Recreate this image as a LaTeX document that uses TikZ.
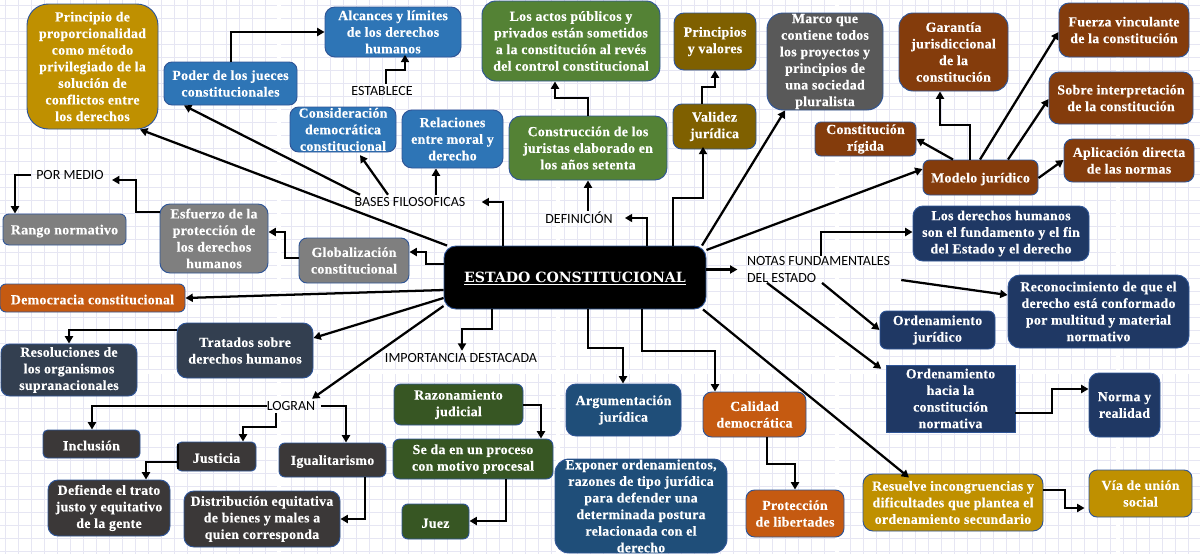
\documentclass[tikz,border=0pt]{standalone}
\usepackage{fontspec}
\usetikzlibrary{arrows.meta}
\newfontfamily\boxfont[Ligatures=TeX,LetterSpace=2,BoldFeatures={FakeBold=0.35}]{Liberation Serif}
\newfontfamily\lblfont{Carlito}
\newfontfamily\titlefont{DejaVu Serif}
\definecolor{cgold}{HTML}{BF9000}
\definecolor{cblue}{HTML}{2E75B6}
\definecolor{cgrey}{HTML}{7F7F7F}
\definecolor{corange}{HTML}{C55A11}
\definecolor{cslate}{HTML}{333F50}
\definecolor{cdark}{HTML}{3B3838}
\definecolor{cgreen}{HTML}{375623}
\definecolor{cgreenb}{HTML}{548235}
\definecolor{cteal}{HTML}{1F4E79}
\definecolor{cnavy}{HTML}{1F3864}
\definecolor{cbrown}{HTML}{843C0C}
\definecolor{colive}{HTML}{7F6000}
\definecolor{cmarco}{HTML}{595959}
\definecolor{cline}{HTML}{2F5597}
\definecolor{cgrid}{HTML}{E6E6F3}
\tikzset{
  gridline/.style={draw=cgrid,line width=0.6pt},
  gapline/.style={draw=white,line width=2.6pt},
  boxspan/.style n args={4}{minimum width=(#3-#1)*0.75pt,minimum height=(#4-#2)*0.75pt,at={({(#1+#3)/2},{(#2+#4)/2})}},
  bx/.style={draw=cline,line width=0.7pt,text=white,inner sep=0pt,align=center,
    execute at begin node={\rule{0pt}{9.6pt}},
    font=\boxfont\bfseries\fontsize{10.4}{12.45}\selectfont},
  lbl/.style={inner sep=0pt,minimum height=10.5pt,align=left,text=black,
    font=\lblfont\fontsize{10.5}{12.8}\selectfont},
  arr/.style={draw=black,line width=1.7pt,-{Triangle[length=5.5pt,width=6pt]}},
  thin arr/.style={arr,line width=1.3pt},
}
\begin{document}
\begin{tikzpicture}[x=0.75pt,y=-0.75pt]
\useasboundingbox (0,0) rectangle (1200,554);
\clip (0,0) rectangle (1200,554);
\fill[white] (0,0) rectangle (1200,554);
\foreach \gx in {5,18,...,1200} \draw[gridline] (\gx,0) -- (\gx,554);
\foreach \gy in {5,18,...,554} \draw[gridline] (0,\gy) -- (1200,\gy);
\foreach \gx in {279,558,837,1118} \draw[gapline] (\gx,0) -- (\gx,554);
\draw[gapline] (0,372) -- (1200,372);

% main
\node[bx,fill=black,boxspan={444}{246}{706}{309},rounded corners=9pt,font=\titlefont\bfseries\fontsize{10.6}{12}\selectfont] (main) {\underline{ESTADO CONSTITUCIONAL}};

% upper left
\node[bx,fill=cgold,boxspan={27}{4}{158}{129},rounded corners=16pt] (princ) {Principio de\\proporcionalidad\\como método\\privilegiado de la\\solución de\\conflictos entre\\los derechos};
\node[bx,fill=cblue,boxspan={164}{62}{297}{105},rounded corners=6pt] (poder) {Poder de los jueces\\constitucionales};
\node[bx,fill=cblue,boxspan={325}{7}{461}{57},rounded corners=7.5pt] (alc) {Alcances y límites\\de los derechos\\humanos};
\node[bx,fill=cblue,boxspan={290}{107}{396}{152},rounded corners=6.5pt] (cons) {Consideración\\democrática\\constitucional};
\node[bx,fill=cblue,boxspan={402}{110}{503}{168},rounded corners=7.5pt] (rel) {Relaciones\\entre moral y\\derecho};
\node[bx,fill=cgrey,boxspan={3}{214}{126}{245},rounded corners=4.5pt] (rango) {Rango normativo};
\node[bx,fill=cgrey,boxspan={160}{204}{268}{273},rounded corners=7.5pt] (esf) {Esfuerzo de la\\protección de\\los derechos\\humanos};
\node[bx,fill=cgrey,boxspan={299}{238}{409}{283},rounded corners=6pt] (glob) {Globalización\\constitucional};
\node[lbl] (estab) at (382,91) {ESTABLECE};
\node[lbl] (bases) at (410,202) {BASES FILOSOFICAS};
\node[lbl] (pormedio) at (70,175) {POR MEDIO};

% lower left
\node[bx,fill=corange,boxspan={0}{284}{185}{312},rounded corners=4.5pt] (demo) {Democracia constitucional};
\node[bx,fill=cslate,boxspan={177}{323}{313}{378},rounded corners=7.5pt] (trat) {Tratados sobre\\derechos humanos};
\node[bx,fill=cslate,boxspan={1}{344}{137}{396},rounded corners=6.5pt] (resol) {Resoluciones de\\los organismos\\supranacionales};
\node[bx,fill=cdark,boxspan={43}{430}{140}{458},rounded corners=3.5pt] (incl) {Inclusión};
\node[bx,fill=cdark,boxspan={177}{442}{256}{471},rounded corners=3.5pt] (just) {Justicia};
\node[bx,fill=cdark,boxspan={279}{443}{386}{477},rounded corners=4.5pt] (igual) {Igualitarismo};
\node[bx,fill=cdark,boxspan={48}{480}{170}{536},rounded corners=7.5pt] (defi) {Defiende el trato\\justo y equitativo\\de la gente};
\node[bx,fill=cdark,boxspan={184}{491}{340}{547},rounded corners=7.5pt] (distr) {Distribución equitativa\\de bienes y males a\\quien corresponda};
\node[bx,fill=cgreen,boxspan={394}{384}{523}{425},rounded corners=5pt] (razon) {Razonamiento\\judicial};
\node[bx,fill=cgreen,boxspan={393}{439}{553}{479},rounded corners=5pt] (seda) {Se da en un proceso\\con motivo procesal};
\node[bx,fill=cgreen,boxspan={402}{504}{469}{539},rounded corners=4.5pt] (juez) {Juez};
\node[lbl] (logran) at (291,406) {LOGRAN};
\node[lbl] (import) at (461,358) {IMPORTANCIA DESTACADA};

% centre bottom
\node[bx,fill=cteal,boxspan={566}{384}{681}{436},rounded corners=7.5pt] (argu) {Argumentación\\jurídica};
\node[bx,fill=corange,boxspan={703}{392}{806}{437},rounded corners=6.5pt] (cali) {Calidad\\democrática};
\node[bx,fill=cteal,boxspan={555}{459}{727}{553},rounded corners=10.5pt] (expo) {Exponer ordenamientos,\\razones de tipo jurídica\\para defender una\\determinada postura\\relacionada con el\\derecho};
\node[bx,fill=corange,boxspan={746}{490}{844}{537},rounded corners=6.5pt] (prot) {Protección\\de libertades};

% lower right
\node[bx,fill=cgold,boxspan={863}{474}{1043}{531},rounded corners=7.5pt] (resu) {Resuelve incongruencias y\\dificultades que plantea el\\ordenamiento secundario};
\node[bx,fill=cgold,boxspan={1089}{470}{1192}{517},rounded corners=6pt] (via) {Vía de unión\\social};
\node[bx,fill=cnavy,boxspan={886}{365}{1015}{432}] (ohacia) {Ordenamiento\\hacia la\\constitución\\normativa};
\node[bx,fill=cnavy,boxspan={1089}{373}{1160}{437},rounded corners=7.5pt] (norma) {Norma y\\realidad};
\node[bx,fill=cnavy,boxspan={880}{311}{995}{349},rounded corners=5pt] (ojur) {Ordenamiento\\jurídico};
\node[bx,fill=cnavy,boxspan={1008}{275}{1189}{348},rounded corners=9pt] (reco) {Reconocimiento de que el\\derecho está conformado\\por multitud y material\\normativo};
\node[bx,fill=cnavy,boxspan={913}{206}{1089}{261},rounded corners=7.5pt] (dh) {Los derechos humanos\\son el fundamento y el fin\\del Estado y el derecho};
\node[lbl] (notas) at (818.5,269.5) {NOTAS FUNDAMENTALES\\DEL ESTADO};

% upper centre
\node[bx,fill=cgreenb,boxspan={482}{1}{660}{81},rounded corners=10.5pt] (actos) {Los actos públicos y\\privados están sometidos\\a la constitución al revés\\del control constitucional};
\node[bx,fill=cgreenb,boxspan={509}{116}{667}{180},rounded corners=9pt] (constr) {Construcción de los\\juristas elaborado en\\los años setenta};
\node[bx,fill=colive,boxspan={674}{13}{756}{70},rounded corners=7.5pt] (princv) {Principios\\y valores};
\node[bx,fill=colive,boxspan={673}{104}{756}{149},rounded corners=6.5pt] (valid) {Validez\\jurídica};
\node[bx,fill=cmarco,boxspan={767}{13}{883}{110},rounded corners=12pt] (marco) {Marco que\\contiene todos\\los proyectos y\\principios de\\una sociedad\\pluralista};
\node[lbl] (defin) at (579,218) {DEFINICIÓN};

% upper right
\node[bx,fill=cbrown,boxspan={899}{13}{1008}{91},rounded corners=10.5pt] (garan) {Garantía\\jurisdiccional\\de la\\constitución};
\node[bx,fill=cbrown,boxspan={1059}{3}{1189}{57},rounded corners=7.5pt] (fuerza) {Fuerza vinculante\\de la constitución};
\node[bx,fill=cbrown,boxspan={1049}{72}{1193}{124},rounded corners=7.5pt] (sobre) {Sobre interpretación\\de la constitución};
\node[bx,fill=cbrown,boxspan={1064}{139}{1194}{182},rounded corners=6.5pt] (apli) {Aplicación directa\\de las normas};
\node[bx,fill=cbrown,boxspan={815}{122}{916}{156},rounded corners=4.5pt] (rigida) {Constitución\\rígida};
\node[bx,fill=cbrown,boxspan={923}{160}{1038}{195},rounded corners=5pt] (model) {Modelo jurídico};

% connectors
\draw[arr] (main.north -| 447,0) -- (princ.south -| 140,0);
\draw[arr] (bases.north -| 360,0) -- (poder.south -| 184,0);
\draw[arr] (bases.north -| 388,0) -- ([yshift=-2pt]cons.south -| 360,0);
\draw[arr] (bases.north -| 436,0) -- (rel.south -| 436,0);
\draw[arr,shorten >=12pt] (main.north -| 503,0) |- (bases.east);
\draw[arr] (main.west |- 0,264) -- (426,264) -- (426,252) -- (glob.east |- 0,252);
\draw[arr] (glob.west |- 0,258) -- (285,258) -- (285,232) -- (esf.east |- 0,232);
\draw[arr,shorten >=6pt] (esf.west |- 0,212) -- (136,212) -- (136,180) -- (pormedio.east |- 0,180);
\draw[arr,shorten <=4pt] (pormedio.west) -| (rango.north -| 15,0);
\draw[arr] (main.west |- 0,290) -- (demo.east |- 0,298);
\draw[arr] (main.west |- 0,298) -- (trat.east |- 0,338);
\draw[arr] (main.west |- 0,306) -- (logran.north -| 312,0);
\draw[arr] (main.south -| 492,0) -- (492,329) -- (462,329) -- (import.north -| 462,0);
\draw[arr] (trat.west |- 0,330) -- (69,330) -- (resol.north -| 69,0);
\draw[arr] (logran.west |- 0,406) -- (92,406) -- (incl.north -| 92,0);
\draw[arr] (logran.south -| 276,0) -- (276,427) -- (243,427) -- (just.north -| 243,0);
\draw[arr,shorten <=4pt] (logran.east |- 0,406) -- (346,406) -- (igual.north -| 346,0);
\draw[arr] (just.west |- 0,462) -- (146,462) -- (defi.north -| 146,0);
\draw[arr] (igual.south -| 365,0) -- (365,519) -- (distr.east |- 0,519);
\draw[arr] (razon.east |- 0,405) -- (541,405) -- (seda.north -| 541,0);
\draw[arr] (seda.south -| 506,0) -- (506,521) -- (juez.east |- 0,521);
\draw[arr] (main.south -| 588,0) -- (588,348) -- (623,348) -- (argu.north -| 623,0);
\draw[arr] (main.south -| 642,0) -- (642,351) -- (715,351) -- (cali.north -| 715,0);
\draw[arr] (cali.south -| 767,0) -- (767,464) -- (795,464) -- (prot.north -| 795,0);
\draw[arr] (main.south -| 703,0) -- ([yshift=-3pt]resu.north -| 909,0);
\draw[arr,shorten >=4pt] (notas.south -| 767,0) -- (ohacia.west |- 0,372);
\draw[arr] (notas.south -| 822,0) -- (ojur.west |- 0,330);
\draw[arr] (notas.east |- 0,280) ++(11,0) -- (reco.west |- 0,295);
\draw[arr,shorten >=7pt] (main.east |- 0,269.5) -- (notas.west |- 0,269.5);
\draw[arr] (notas.north -| 821,0) |- (dh.west |- 0,232);
\draw[arr] (main.east |- 0,250) -- (model.west |- 0,169);
\draw[arr] (main.north -| 702,0) -- (marco.south -| 785,0);
\draw[arr] (main.north -| 673,0) -- (673,198) -- (703,198) -- ([yshift=2pt]valid.south -| 703,0);
\draw[arr] (valid.north -| 702,0) -- (702,87) -- (715,87) -- (princv.south -| 715,0);
\draw[arr,shorten >=9pt] (main.north -| 647,0) |- (defin.east);
\draw[arr] (defin.north -| 588,0) -- (constr.south -| 588,0);
\draw[arr] (constr.north -| 588,0) -- (588,98) -- (555,98) -- (actos.south -| 555,0);
\draw[arr] (poder.north -| 231,0) -- (231,32) -- (alc.west |- 0,32);
\draw[arr] (estab.north -| 386,0) -- (386,70) -- (405,70) -- ([yshift=2pt]alc.south -| 405,0);
\draw[arr] (model.north -| 953,0) -- (rigida.east |- 0,139);
\draw[arr] (model.north -| 970,0) -- (970,125) -- (940,125) -- (garan.south -| 940,0);
\draw[arr] (model.north -| 980,0) -- (fuerza.west |- 0,32);
\draw[arr] (model.north -| 1008,0) -- (sobre.west |- 0,99);
\draw[arr] (model.east |- 0,178) -- (apli.west |- 0,160);
\draw[arr] (ohacia.east |- 0,413) -- (1052,413) -- (1052,389) -- (norma.west |- 0,389);
\draw[thin arr,shorten >=3pt] (resu.east |- 0,490) -- (1065,490) -- (1065,508) -- (via.west |- 0,508);
\fill[black] ([yshift=-2pt]just.north west) rectangle ([xshift=2pt,yshift=2pt]just.south west);
\end{tikzpicture}
\end{document}
